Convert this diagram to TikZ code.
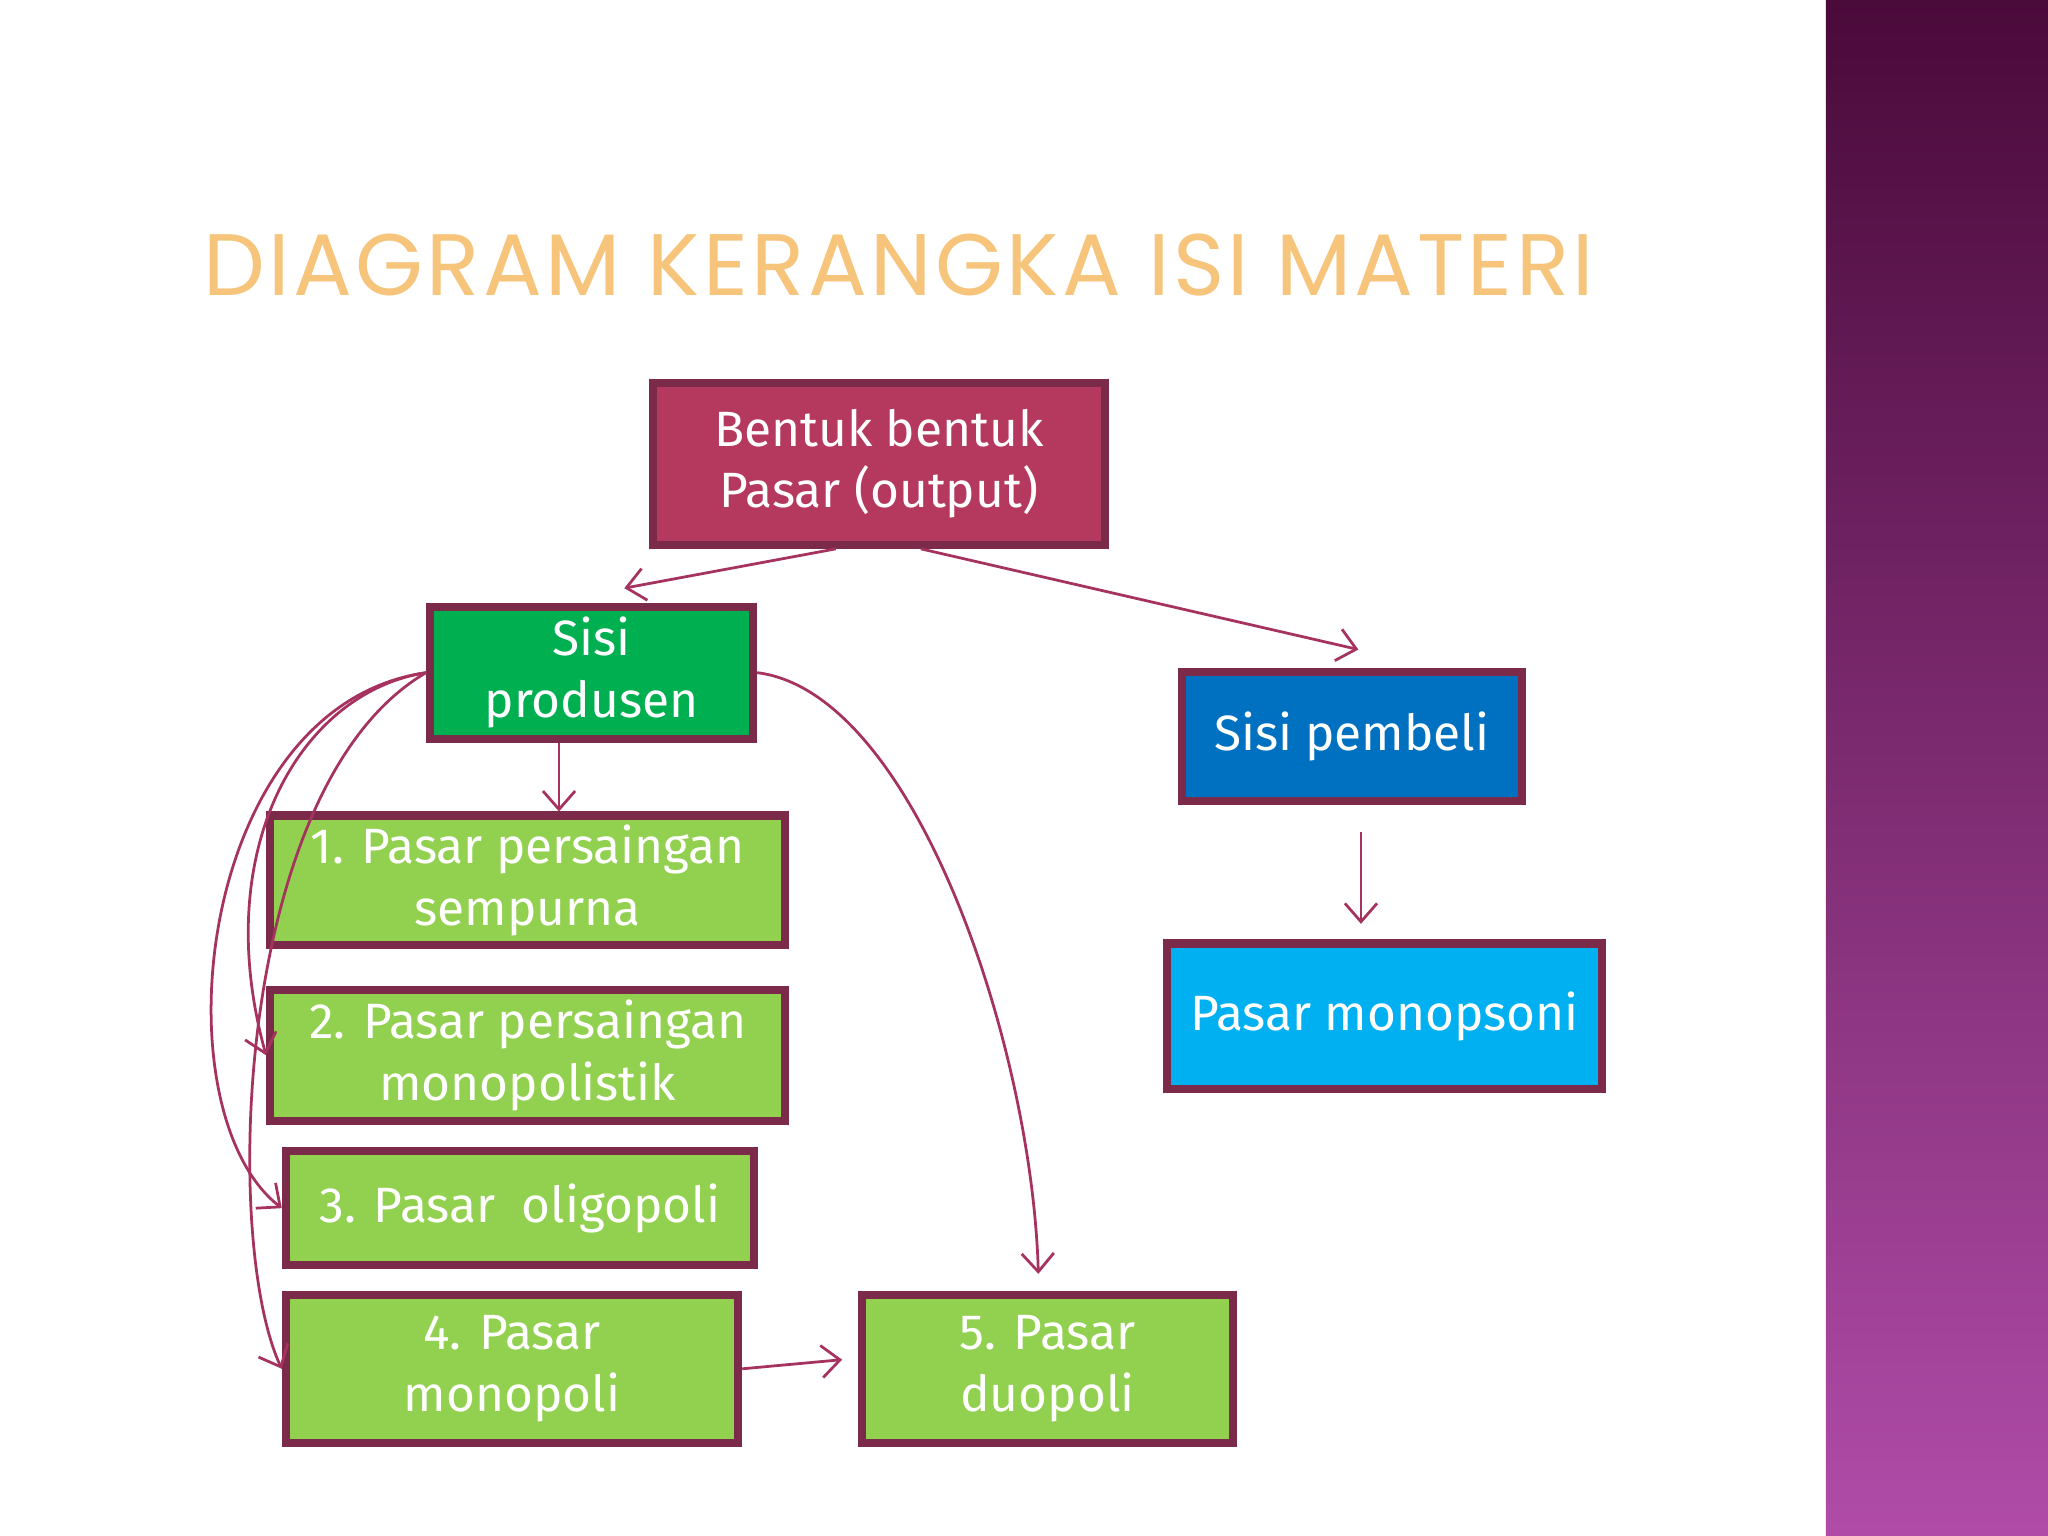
\documentclass[tikz,border=0pt]{standalone}
\usepackage{fontspec}
\setmainfont{Fira Sans}
\newfontfamily\titlefont[LetterSpace=4]{Poppins}
\usetikzlibrary{arrows.meta,calc}
\definecolor{rimC}{HTML}{7B2A4A}
\definecolor{arrowC}{HTML}{A5325F}
\definecolor{topC}{HTML}{B5395F}
\definecolor{prodC}{HTML}{00B050}
\definecolor{buyC}{HTML}{0070C0}
\definecolor{monoC}{HTML}{00B0F0}
\definecolor{marketC}{HTML}{92D050}
\definecolor{bandTop}{HTML}{4A0A3A}
\definecolor{bandBot}{HTML}{B04CA8}
\definecolor{titleC}{HTML}{F7C47C}
\tikzset{
  box/.style={draw=rimC, line width=1.8pt, text=white, align=center,
    font=\fontsize{10.8}{13.4}\selectfont, inner sep=0pt},
  link/.style={draw=arrowC, line width=0.6pt, -{Straight Barb[length=4pt,width=7pt]}}
}
\begin{document}
\begin{tikzpicture}[x=0.01cm, y=-0.01cm]
  \useasboundingbox (0,0) rectangle (1568,1176);
  \fill[white] (0,0) rectangle (1568,1176);
  \shade[top color=bandTop, bottom color=bandBot] (1398,0) rectangle (1568,1176);

  % title
  \node[text=titleC, draw=none, font=\titlefont\fontsize{19}{24}\selectfont] (title) at (688,203)
    {DIAGRAM KERANGKA ISI MATERI};

  % boxes
  \node[box, fill=topC, minimum width=3.46cm, minimum height=1.24cm] (bentuk) at (673,355) {Bentuk bentuk\\Pasar (output)};
  \node[box, fill=prodC, minimum width=2.47cm, minimum height=1.01cm] (produsen) at (453,515) {Sisi\\produsen};
  \node[box, fill=buyC, minimum width=2.60cm, minimum height=0.99cm] (pembeli) at (1035,564) {Sisi pembeli};
  \node[box, fill=monoC, minimum width=3.33cm, minimum height=1.11cm] (monopsoni) at (1060,778) {Pasar monopsoni};
  \node[box, fill=marketC, minimum width=3.94cm, minimum height=0.99cm] (p1) at (404,674) {1. Pasar persaingan\\sempurna};
  \node[box, fill=marketC, minimum width=3.94cm, minimum height=1.00cm] (p2) at (404,808) {2. Pasar persaingan\\monopolistik};
  \node[box, fill=marketC, minimum width=3.58cm, minimum height=0.87cm] (p3) at (398,925) {3. Pasar\ \ oligopoli};
  \node[box, fill=marketC, minimum width=3.46cm, minimum height=1.13cm] (p4) at (392,1048) {4. Pasar\\monopoli};
  \node[box, fill=marketC, minimum width=2.84cm, minimum height=1.13cm] (p5) at (802,1048) {5. Pasar\\duopoli};

  % connectors
  \draw[link] ($(bentuk.south)+(-33,0)$) -- ($(produsen.north)+(25,-11)$);
  \draw[link] ($(bentuk.south)+(32,0)$) -- ($(pembeli.north)+(5,-14)$);
  \draw[link] ($(produsen.south)+(-25,0)$) -- ($(p1.north)+(24,0)$);
  \coordinate (buyOut) at (1042,637);
  \draw[link] (buyOut) -- ($(monopsoni.north)+(-18,-12)$);
  \draw[link] (produsen.west) .. controls (230,530) and (160,650) .. (p2.west);
  \draw[link] (produsen.west) .. controls (150,540) and (120,850) .. (p3.west);
  \draw[link] (produsen.west) .. controls (180,600) and (170,950) .. (p4.west);
  \draw[link] (produsen.east) .. controls (700,530) and (790,800) .. ($(p5.north)+(-7,-13)$);
  \draw[link] (p4.east) -- ($(p5.west)+(-12,-7)$);
\end{tikzpicture}
\end{document}
